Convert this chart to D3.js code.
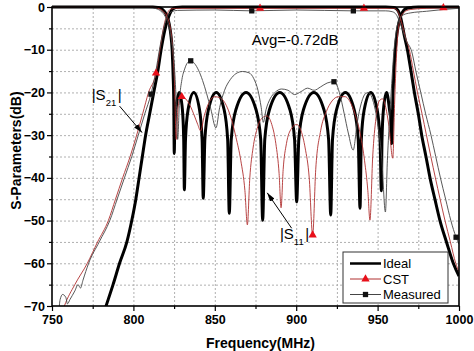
<!DOCTYPE html>
<html><head><meta charset="utf-8">
<script src="https://d3js.org/d3.v7.min.js"></script>
<style>
body{margin:0;background:#fff}
svg{display:block;font-family:'Liberation Sans',Arial,sans-serif}
</style></head><body>
<svg id="chart" width="474" height="351"></svg>
<script>
var xTicks = [750, 800, 850, 900, 950, 1000]
var xMinor = [775, 825, 875, 925, 975]
var xGrid = [775, 800, 825, 850, 875, 900, 925, 950, 975]
var yTicks = [0, -10, -20, -30, -40, -50, -60, -70]
var yMinor = [-5, -15, -25, -35, -45, -55, -65]
var yGrid = [-5, -10, -15, -20, -25, -30, -35, -40, -45, -50, -55, -60, -65]
var seriesNames = ['Ideal', 'CST', 'Measured']

// [MHz, dB]
var idealS21 = [[778,-76],[783.2,-70],[787.5,-65],[791.5,-60],[796,-55],[799,-50],[801.5,-45],[803.5,-40],[805.5,-35],[807.5,-30],[810,-25],[812.5,-20],[815,-15],[817,-10],[819.3,-5.4],[821,-3],[822.5,-1.5],[824,-0.5],[826,-0.1],[830,0],[955,0],[960,-0.1],[961.5,-0.4],[962.8,-1],[963.8,-2],[964.5,-3],[965.3,-4.5],[966.3,-6.5],[968.3,-10],[970.5,-15],[972.6,-20],[975,-25],[977.1,-30],[979.7,-35],[982.2,-40],[985.2,-45],[988.3,-50],[992.3,-55],[996.5,-60],[1000,-63]]
var idealS11 = [[750,0],[812,0],[815,-0.1],[817,-0.3],[818.5,-0.8],[820,-1.6],[821,-2.6],[822,-4],[823,-6.5],[823.8,-10],[824.4,-16],[824.8,-22],[825.1,-34.3],
  [825.4,-28],[826.3,-23.5],[828.2,-20],[830.1,-24],[830.9,-31],[831.3,-42.8],
  [832,-31],[833.6,-24],[837.1,-20],[840.6,-24],[842.2,-31],[842.9,-44.8],
  [843.9,-31],[846.1,-24],[850.9,-20],[855.7,-24],[857.9,-31],[858.9,-48.3],
  [860.1,-31],[863,-24],[869.2,-20],[875.3,-24],[878.2,-31],[879.4,-49.9],
  [880.7,-31],[883.6,-24],[889.9,-20],[896.1,-24],[899,-31],[900.3,-45.6],
  [901.6,-31],[904.5,-24],[910.8,-20],[917,-24],[919.9,-31],[921.2,-48.7],
  [922.3,-31],[924.8,-24],[930.2,-20],[935.6,-24],[938.1,-31],[939.2,-47.1],
  [940,-31],[941.8,-24],[945.8,-20],[949.7,-24],[951.5,-31],[952.3,-43],
  [952.7,-31],[953.6,-24],[955.5,-20],[957.3,-24],[958.2,-27],[958.6,-32],
  [959.5,-20],[960.5,-12],[961.5,-7.5],[962.5,-4.8],[963.5,-3],[964.5,-1.8],[966,-0.8],[968,-0.3],[972,-0.05],[975,0],[1000,0]]

var cstS21 = [[755,-73],[757.6,-70],[764,-65],[771.7,-60],[778,-55],[784.6,-50],[789,-45],[793.4,-40],[798,-35],[802,-30],[805.7,-25],[809.3,-20],[813.9,-15.5],[816.3,-10],[818.4,-5],[820,-2.5],[821.5,-1],[823,-0.5],[826,-0.3],[960,-0.3],[962,-0.8],[963.5,-2],[965,-4],[967,-7],[969.5,-10],[972,-15],[974.5,-20],[977.3,-25],[980,-30],[982.7,-35],[985.5,-40],[988.4,-45],[991.4,-50],[994.7,-55],[998,-60],[1000,-62]]
var cstS11 = [[750,0],[812,0],[815,-0.3],[818,-0.9],[820.5,-2.2],[822.5,-4.5],[824,-9],[825.2,-17],[826.3,-31],[827.3,-24],[828.5,-21.5],[829.7,-21],[831.5,-21.3],[834,-22.5],[837,-25],[839.5,-27.5],[841.3,-29],
  [843.5,-25.5],[846.5,-22.3],[850,-21],[853.5,-21.3],[857,-23],[860,-26],[863,-30.5],[866,-36],[868.5,-43],[870,-51],
  [871.5,-40],[873.5,-33],[876,-28.5],[879,-26],[882,-25.5],[885,-27.5],[887.5,-32],[889.5,-39],[890.7,-47],
  [892,-38],[894,-32],[897,-28.5],[900.3,-27.5],[903,-29],[905.5,-33],[908,-40],[910.1,-53.4],
  [912,-38],[915,-29],[918.5,-24.5],[922,-22],[926,-21],[930,-21],[933.5,-22.5],[936.5,-25.5],[939.5,-30],[942,-36],[944,-43],[945.3,-49.9],
  [947,-35],[949,-26],[951,-22],[953,-21.5],[955,-23.5],[957,-28],[959.3,-35.4],
  [960.5,-22],[961.5,-12],[962.5,-6],[964,-2.8],[966,-1.3],[970,-0.6],[980,-0.3],[990.4,-0.2],[1000,-0.1]]

var measS21 = [[754,-73],[754.5,-70],[755,-68.5],[756.5,-67.3],[758.5,-68],[759.5,-69.5],[761,-68.5],[764,-66.5],[766,-65],[767.5,-65.8],[769,-64],[772.5,-60],[779,-55],[785.5,-50],[790,-45],[794.5,-40],[799,-35],[803,-30],[807,-25],[810.8,-20.4],[813.8,-15],[816,-10],[818.3,-5.5],[820,-3],[821.5,-1.8],[823.5,-1.1],[827,-0.8],[850,-0.7],[872.7,-0.9],[900,-0.7],[935.1,-0.9],[955,-0.9],[959,-1.1],[961.5,-1.8],[963,-3],[965,-5],[967.5,-7.8],[971,-10.5],[973.5,-15],[976.5,-20],[979.5,-25],[982.8,-30],[985.7,-35],[988.6,-40],[991.8,-45],[995,-50],[998.2,-53.9],[1000,-55.5]]
var measS11 = [[750,0],[810,-0.1],[814,-0.4],[817,-1],[819.5,-2.2],[821.5,-4],[823.3,-7.5],[825,-13],[826.3,-22],[827.2,-31],[828.3,-22],[829.8,-17],[831.5,-14.5],[833.3,-13],[835.2,-12.6],[837.5,-13.2],[840,-14.8],[842.5,-17.2],[845,-20.3],[847.5,-23.8],[850.7,-28.3],
  [853,-23.5],[856,-19.5],[859.5,-17],[863,-15.6],[867,-15.1],[871,-15.4],[874,-16.8],[876.5,-19.5],[878.5,-23.5],[879.8,-27],
  [881.5,-24],[884,-21.5],[887,-20],[891,-19.2],[895,-19.5],[899,-20.5],[903,-19.8],[907,-19],[911,-19.5],[915,-18.7],[919,-17.8],[923.2,-17.5],
  [925.5,-18.8],[927.5,-21.5],[929.5,-25],[932,-29.5],[935,-33.5],[937.5,-27],[940,-22.5],[942.5,-20.3],[944.5,-20],[946.5,-21.2],[948.5,-24],[950.5,-28.5],[952.5,-35],[954.8,-48],
  [956,-36],[957.2,-27],[958.5,-19],[960,-10.5],[961.5,-5.5],[963.5,-2.8],[966,-1.8],[970,-1.4],[980,-1],[990,-0.6],[1000,-0.3]]

var cstMarks = [[813.9,-15.5],[877.8,-0.3],[941.6,-0.3],[829.7,-21],[910.1,-53.4],[990.4,-0.2]]
var measMarks = [[810.8,-20.4],[872.7,-0.9],[935.1,-0.9],[998.2,-53.9],[835.2,-12.6],[923.2,-17.5]]

var W = 474, H = 351
var m = {left: 52, right: 15, top: 7, bottom: 45}
var red = '#b03030', redMark = '#e8101a', gray = '#454545'
var font = "'Liberation Sans',Arial,sans-serif"

var svg = d3.select('#chart')
var x = d3.scaleLinear().domain([750, 1000]).range([m.left, W - m.right])
var y = d3.scaleLinear().domain([-70, 0]).range([H - m.bottom, m.top])
var pw = x(1000) - x(750), ph = y(-70) - y(0)

svg.append('rect').attr('width', W).attr('height', H).attr('fill', '#fff')

// grid
svg.append('g').attr('transform', `translate(0,${y(-70)})`)
  .call(d3.axisBottom(x).tickValues(xGrid).tickSize(-ph).tickFormat(''))
  .call(g => g.select('.domain').remove())
  .selectAll('line').attr('stroke', '#b0b0b0').attr('stroke-dasharray', '2,2')
svg.append('g').attr('transform', `translate(${x(750)},0)`)
  .call(d3.axisLeft(y).tickValues(yGrid).tickSize(-pw).tickFormat(''))
  .call(g => g.select('.domain').remove())
  .selectAll('line').attr('stroke', '#b0b0b0').attr('stroke-dasharray', '2,2')

svg.append('clipPath').attr('id', 'clip').append('rect')
  .attr('x', x(750)).attr('y', y(0) - 2).attr('width', pw).attr('height', ph + 2)

var line = d3.line().x(d => x(d[0])).y(d => y(d[1])).curve(d3.curveMonotoneX)
var plot = svg.append('g').attr('clip-path', 'url(#clip)')
var curves = [
  [idealS21, '#000', 3], [idealS11, '#000', 3],
  [cstS21, red, 0.9], [cstS11, red, 0.9],
  [measS21, gray, 0.9], [measS11, gray, 0.9]
]
curves.forEach(c => {
  plot.append('path').attr('d', line(c[0]))
    .attr('fill', 'none').attr('stroke', c[1]).attr('stroke-width', c[2])
    .attr('stroke-linejoin', 'round')
})

var tri = d3.symbol().type(d3.symbolTriangle).size(30)
var sq = d3.symbol().type(d3.symbolSquare).size(28)
svg.append('g').selectAll('path').data(cstMarks).join('path')
  .attr('d', tri).attr('fill', redMark)
  .attr('transform', d => `translate(${x(d[0])},${y(d[1])})`)
svg.append('g').selectAll('path').data(measMarks).join('path')
  .attr('d', sq).attr('fill', '#111')
  .attr('transform', d => `translate(${x(d[0])},${y(d[1])})`)

// axes
function styleAxis(g){
  g.select('.domain').remove()
  g.selectAll('line').attr('stroke', '#000').attr('stroke-width', 1.2)
  g.selectAll('text').attr('font-family', font).attr('font-size', 12.5)
    .attr('font-weight', 'bold').attr('fill', '#000')
}
svg.append('g').attr('transform', `translate(0,${y(-70)})`)
  .call(d3.axisBottom(x).tickValues(xTicks).tickFormat(d3.format('d')).tickSize(5).tickPadding(4))
  .call(styleAxis)
svg.append('g').attr('transform', `translate(0,${y(-70)})`)
  .call(d3.axisBottom(x).tickValues(xMinor).tickSize(3).tickFormat(''))
  .call(styleAxis)
svg.append('g').attr('transform', `translate(${x(750)},0)`)
  .call(d3.axisLeft(y).tickValues(yTicks).tickFormat(d3.format('d')).tickSize(5).tickPadding(2))
  .call(styleAxis)
svg.append('g').attr('transform', `translate(${x(750)},0)`)
  .call(d3.axisLeft(y).tickValues(yMinor).tickSize(3).tickFormat(''))
  .call(styleAxis)

svg.append('rect').attr('x', x(750)).attr('y', y(0)).attr('width', pw).attr('height', ph)
  .attr('fill', 'none').attr('stroke', '#000').attr('stroke-width', 1.6)

svg.append('text').text('Frequency(MHz)')
  .attr('x', (x(750) + x(1000)) / 2 + 5).attr('y', 347.5)
  .attr('text-anchor', 'middle').attr('font-size', 14).attr('font-weight', 'bold')
svg.append('text').text('S-Parameters(dB)')
  .attr('transform', `translate(21,${(y(0) + y(-70)) / 2 - 6}) rotate(-90)`)
  .attr('text-anchor', 'middle').attr('font-size', 14).attr('font-weight', 'bold')

// annotations
svg.append('text').text('Avg=-0.72dB')
  .attr('x', x(872.7)).attr('y', y(-9)).attr('font-size', 15)

var defs = svg.append('defs')
defs.append('marker').attr('id', 'arr').attr('viewBox', '0 0 10 6')
  .attr('refX', 10).attr('refY', 3).attr('markerWidth', 9).attr('markerHeight', 5.5)
  .attr('markerUnits', 'userSpaceOnUse').attr('orient', 'auto')
  .append('path').attr('d', 'M0,0L10,3L0,6z').attr('fill', '#000')

function subLabel(f, v, main, sub){
  var t = svg.append('text').attr('x', x(f)).attr('y', y(v)).attr('font-size', 15)
  t.append('tspan').text('|' + main)
  t.append('tspan').attr('font-size', 9.5).attr('dy', 5.5).text(sub)
  t.append('tspan').attr('dy', -5.5).attr('dx', 1.5).text('|')
}
subLabel(774.4, -21.8, 'S', '21')
subLabel(890, -54.4, 'S', '11')

svg.append('line')
  .attr('x1', x(791.5)).attr('y1', y(-23.2)).attr('x2', x(805.3)).attr('y2', y(-29.4))
  .attr('stroke', '#000').attr('stroke-width', 1).attr('marker-end', 'url(#arr)')
svg.append('line')
  .attr('x1', x(897.2)).attr('y1', y(-51.8)).attr('x2', x(882.2)).attr('y2', y(-43.5))
  .attr('stroke', '#000').attr('stroke-width', 1).attr('marker-end', 'url(#arr)')

// legend
var leg = svg.append('g').attr('transform', `translate(${x(1000) - 116},${y(-70) - 54})`)
leg.append('rect').attr('width', 105).attr('height', 51)
  .attr('fill', '#fff').attr('stroke', '#333').attr('stroke-width', 1)
var legStyle = [['#000', 2.5, null], [red, 1, tri], [gray, 1, sq]]
seriesNames.forEach((name, i) => {
  var row = leg.append('g').attr('transform', `translate(0,${11.5 + i * 15.5})`)
  row.append('line').attr('x1', 7).attr('x2', 38)
    .attr('stroke', legStyle[i][0]).attr('stroke-width', legStyle[i][1])
  if (legStyle[i][2]) row.append('path').attr('d', legStyle[i][2])
    .attr('transform', 'translate(22.5,0)').attr('fill', i == 1 ? redMark : '#111')
  row.append('text').text(name).attr('x', 40).attr('dy', '.36em').attr('font-size', 13)
})
</script>
</body></html>
